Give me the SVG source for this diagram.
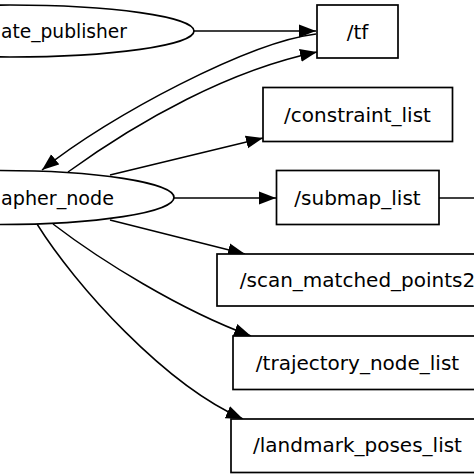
<svg xmlns="http://www.w3.org/2000/svg" width="474" height="474" viewBox="0 0 474 474">
<defs>
<style>
.node ellipse,.node rect{fill:#fff;stroke:#000;stroke-width:1.7}
.lbl{font-family:"DejaVu Sans",Verdana,sans-serif;font-size:20px;fill:#000}
.edge{fill:none;stroke:#000;stroke-width:1.5}
</style>
<marker id="ah" markerUnits="userSpaceOnUse" markerWidth="17" markerHeight="14" viewBox="0 0 17 13" refX="17" refY="6.5" orient="auto">
<path d="M0,0 L17,6.5 L0,13 z" fill="#000"/>
</marker>
</defs>
<rect x="0" y="0" width="474" height="474" fill="#fff"/>
<g id="connectors">
<path class="edge" d="M194,31 L316,31" marker-end="url(#ah)"/>
<path class="edge" d="M316,34 C250,42 110,115 42,170" marker-end="url(#ah)"/>
<path class="edge" d="M68,172 C140,120 230,70 317,52" marker-end="url(#ah)"/>
<path class="edge" d="M110,175 L263,138" marker-end="url(#ah)"/>
<path class="edge" d="M174,198 L276,198" marker-end="url(#ah)"/>
<path class="edge" d="M439,198 L474,198"/>
<path class="edge" d="M110,220 L245,254" marker-end="url(#ah)"/>
<path class="edge" d="M53,224 C100,260 180,310 251,336" marker-end="url(#ah)"/>
<path class="edge" d="M37,224 C75,285 165,385 243,419" marker-end="url(#ah)"/>
</g>
<g id="state_publisher" class="node">
<ellipse cx="10" cy="31" rx="184" ry="26"/>
<text class="lbl" x="1" y="38" textLength="126" lengthAdjust="spacingAndGlyphs">ate_publisher</text>
</g>
<g id="cartographer_node" class="node">
<ellipse cx="0" cy="197.5" rx="174" ry="27"/>
<text class="lbl" x="1" y="205" textLength="113" lengthAdjust="spacingAndGlyphs">apher_node</text>
</g>
<g id="tf" class="node">
<rect x="317" y="5" width="81" height="53"/>
<text class="lbl" x="357.5" y="38.5" text-anchor="middle">/tf</text>
</g>
<g id="constraint_list" class="node">
<rect x="263" y="87.5" width="189.5" height="54"/>
<text class="lbl" x="357.5" y="122" text-anchor="middle">/constraint_list</text>
</g>
<g id="submap_list" class="node">
<rect x="276.5" y="170.5" width="162.5" height="54"/>
<text class="lbl" x="357.5" y="205" text-anchor="middle">/submap_list</text>
</g>
<g id="scan_matched_points2" class="node">
<rect x="217" y="254" width="281" height="52"/>
<text class="lbl" x="357.5" y="287" text-anchor="middle">/scan_matched_points2</text>
</g>
<g id="trajectory_node_list" class="node">
<rect x="233" y="336" width="250" height="53.5"/>
<text class="lbl" x="357.5" y="369.5" text-anchor="middle">/trajectory_node_list</text>
</g>
<g id="landmark_poses_list" class="node">
<rect x="231" y="419" width="253" height="53.5"/>
<text class="lbl" x="357.5" y="452" text-anchor="middle">/landmark_poses_list</text>
</g>
</svg>
